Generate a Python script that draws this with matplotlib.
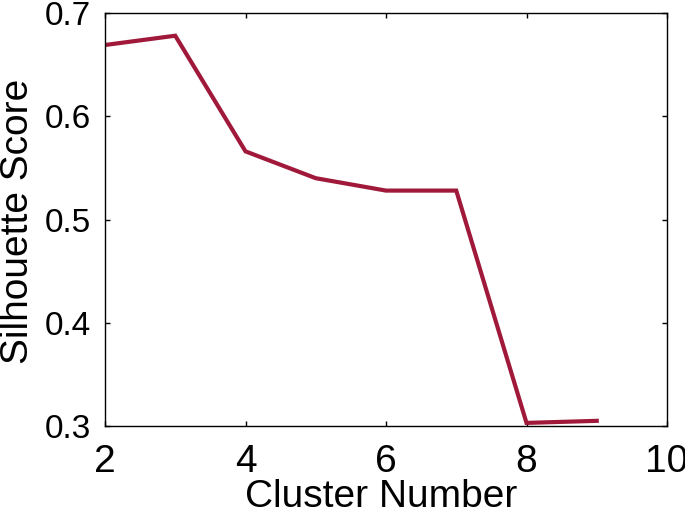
import matplotlib

matplotlib.use("Agg")

import matplotlib.pyplot as plt

cluster_number = [2, 3, 4, 5, 6, 7, 8, 9]
silhouette_score = [0.669, 0.678, 0.566, 0.540, 0.528, 0.528, 0.303, 0.305]
x_ticks = [2, 4, 6, 8, 10]
y_ticks = [0.3, 0.4, 0.5, 0.6, 0.7]

LINE = "#A0193A"

plt.rcParams["font.family"] = ["Liberation Sans", "DejaVu Sans"]

fig = plt.figure(figsize=(6.85, 5.24), dpi=100)
ax = fig.add_axes([105 / 685, 1 - 426 / 524, 562 / 685, 413 / 524])
ax.plot(cluster_number, silhouette_score, color=LINE, lw=3.0, solid_joinstyle="miter")
ax.set_xlim(2, 10)
ax.set_ylim(0.3, 0.7)
ax.set_xticks(x_ticks)
ax.set_yticks(y_ticks)
ax.set_yticklabels([f"{v:.1f}" for v in y_ticks])
ax.tick_params(direction="in", top=True, right=True, length=3.6, width=1)
ax.tick_params(axis="x", labelsize=28, pad=13)
ax.tick_params(axis="y", labelsize=24, pad=10)
for s in ax.spines.values():
    s.set_linewidth(1)

ax.set_xlabel("Cluster Number", fontsize=28)
ax.set_ylabel("Silhouette Score", fontsize=28)
ax.xaxis.set_label_coords(0.491, -0.128)
ax.yaxis.set_label_coords(-0.122, 0.496)

fig.savefig("out.png", dpi=100)
